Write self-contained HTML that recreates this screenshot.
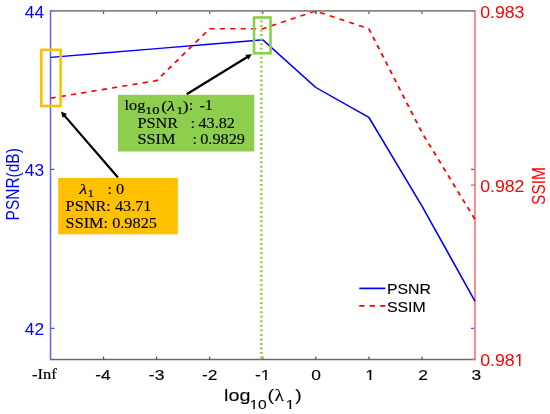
<!DOCTYPE html>
<html><head><meta charset="utf-8"><title>PSNR / SSIM vs log10(lambda1)</title>
<style>
html,body{margin:0;padding:0;background:#fff;}
svg{display:block;}
.sans{font-family:"Liberation Sans",Arial,sans-serif;}
.serif{font-family:"Liberation Serif","Times New Roman",serif;}
</style></head><body>
<svg width="550" height="414" viewBox="0 0 550 414">
<defs><filter id="soft" x="0" y="0" width="550" height="414" filterUnits="userSpaceOnUse" color-interpolation-filters="sRGB"><feGaussianBlur stdDeviation="0.4"/></filter></defs>
<rect width="550" height="414" fill="#fff"/>
<g filter="url(#soft)">
<rect x="-5" y="-5" width="560" height="424" fill="#fff"/>
<!-- axes -->
<g fill="none">
<path d="M50.5 359.5H475" stroke="#686868" stroke-width="1.5"/>
<g stroke="#4a4a4a" stroke-width="1.1">
<path d="M103.6 11v2.9M156.6 11v2.9M209.7 11v2.9M262.8 11v2.9M315.8 11v2.9M368.9 11v2.9M421.9 11v2.9"/>
<path d="M103.6 359.4v-2.9M156.6 359.4v-2.9M209.7 359.4v-2.9M262.8 359.4v-2.9M315.8 359.4v-2.9M368.9 359.4v-2.9M421.9 359.4v-2.9"/>
</g>
<path d="M50.5 10V360.2" stroke="#6262ff" stroke-width="1.5"/>
<path d="M50.5 169.4h4M50.5 328.3h4M50.5 10.9h4M475 169.4h-4M475 328.3h-4" stroke="#5050ff" stroke-width="1.2"/>
<path d="M475 10V360.3" stroke="#ff8080" stroke-width="1.8"/>
<path d="M475 185.2h-4M475 10.9h-4M475 359.4h-4" stroke="#ff5050" stroke-width="1.2"/>
</g>
<!-- data -->
<g transform="scale(1.16,1)" fill="none" stroke-width="1.7" stroke-linejoin="round">
<polyline stroke="#0000ff" stroke-width="1.45" points="43.53,57.4 89.28,53 135.02,48.6 180.77,44.3 226.51,39.8 272.25,87.5 318.00,117.3 363.74,206 409.48,301.2"/>
<polyline stroke="#ff0000" stroke-width="1.6" stroke-dasharray="4.5 4.5" points="43.53,98.2 89.28,89.4 135.02,80.6 180.77,28.7 226.51,28.7 272.25,11 318.00,28.8 363.74,132.5 409.48,219.5"/>
</g>
<!-- top axis line sits above the curves -->
<path d="M50.5 10.9H475" stroke="#868686" stroke-width="1.9" fill="none"/>
<path d="M315.8 11v2.9" stroke="#4a4a4a" stroke-width="1.1" fill="none"/>
<!-- green dotted vertical -->
<path d="M261.4 358.6V12.4" stroke="#8dce4e" stroke-width="2.5" stroke-dasharray="2 2.543" fill="none"/>
<!-- highlight rectangles -->
<rect x="41.3" y="49.9" width="19.3" height="56.1" fill="none" stroke="#ffc000" stroke-width="2.6"/>
<rect x="254" y="17.5" width="16.5" height="35.8" fill="none" stroke="#8dce4e" stroke-width="2.6"/>
<!-- arrows -->
<g stroke="#000" stroke-width="2.2" fill="#000">
<line x1="118" y1="177.5" x2="63.6" y2="114.6"/>
<polygon points="61,111.5 67,114 62.6,117.8" stroke="none"/>
<line x1="186.7" y1="94.3" x2="248.5" y2="56.2"/>
<polygon points="251.8,54.2 248.4,59.7 245.3,54.8" stroke="none"/>
</g>
<!-- annotation boxes -->
<rect x="58.2" y="177.9" width="119.6" height="56.4" fill="#ffc000"/>
<rect x="118" y="94.8" width="136.3" height="56.7" fill="#8dce4e"/>
<g class="serif" font-size="13.8" fill="#000" stroke="#000" stroke-width="0.12">
<text transform="translate(79.3,193.8) scale(1.2,1)" font-style="italic" font-size="15.5">λ</text>
<text transform="translate(87.6,197) scale(1.25,1)" font-size="10.5">1</text>
<text transform="translate(107.5,193.6) scale(1.18,1)">: 0</text>
<text transform="translate(65.6,211.2) scale(1.18,1)">PSNR: 43.71</text>
<text transform="translate(65.6,227.8) scale(1.18,1)">SSIM: 0.9825</text>
<text transform="translate(124.6,110.4) scale(1.18,1)">log</text>
<text transform="translate(145,113.8) scale(1.42,1)" font-size="10.3">10</text>
<text transform="translate(161.3,110.9) scale(1.18,1)" font-size="15.5">(</text>
<text transform="translate(167,110.6) scale(1.2,1)" font-style="italic" font-size="15.5">λ</text>
<text transform="translate(176.4,113.8) scale(1.3,1)" font-size="10.3">1</text>
<text transform="translate(182.4,110.9) scale(1.18,1)" font-size="15.5">)</text><text transform="translate(188.8,110.4) scale(1.18,1)">:</text>
<text transform="translate(199.4,110.4) scale(1.18,1)">-1</text>
<text transform="translate(137.5,127.6) scale(1.18,1)">PSNR</text>
<text transform="translate(190.4,127.6) scale(1.18,1)">:</text>
<text transform="translate(198.4,127.6) scale(1.18,1)">43.82</text>
<text transform="translate(137.5,144.4) scale(1.18,1)">SSIM</text>
<text transform="translate(192.4,144.4) scale(1.18,1)">:</text>
<text transform="translate(200.2,144.4) scale(1.18,1)">0.9829</text>
</g>
<!-- tick labels -->
<g class="sans" font-size="15.8" fill="#0000ff" text-anchor="end">
<text transform="translate(44.2,17.6) scale(1.1,1)">44</text>
<text transform="translate(44.2,176) scale(1.1,1)">43</text>
<text transform="translate(44.2,335.1) scale(1.1,1)">42</text>
</g>
<g class="sans" font-size="15.8" fill="#ff0000">
<text transform="translate(480.2,17.5) scale(1.12,1)">0.983</text>
<text transform="translate(480.2,192) scale(1.12,1)">0.982</text>
<text transform="translate(480.2,366.3) scale(1.12,1)">0.981</text>
</g>
<g class="sans" font-size="15.2" fill="#000" stroke="#000" stroke-width="0.12" text-anchor="middle">
<text transform="translate(103.0,379.8) scale(1.15,1)">-4</text>
<text transform="translate(156.6,379.8) scale(1.15,1)">-3</text>
<text transform="translate(209.7,379.8) scale(1.15,1)">-2</text>
<text transform="translate(262.8,379.8) scale(1.15,1)">-1</text>
<text transform="translate(316.2,379.8) scale(1.15,1)">0</text>
<text transform="translate(370.2,379.8) scale(1.15,1)">1</text>
<text transform="translate(423.2,379.8) scale(1.15,1)">2</text>
<text transform="translate(476.3,379.8) scale(1.15,1)">3</text>
</g>
<text class="serif" font-size="14.6" stroke="#000" stroke-width="0.2" transform="translate(32,379.2) scale(1.13,1)">-Inf</text>
<!-- axis labels -->
<g class="sans" font-size="16.2" fill="#000" stroke="#000" stroke-width="0.1">
<text transform="translate(224,400.6) scale(1.22,1)">log</text>
<text transform="translate(249.4,408.5) scale(1.26,1)" font-size="12.4">10</text>
<text transform="translate(267.4,401) scale(1.2,1)">(</text>
<text class="serif" transform="translate(274.6,401) scale(1.15,1)" font-size="17">λ</text>
<text transform="translate(285.8,408.5) scale(1.26,1)" font-size="12.4">1</text>
<text transform="translate(295.2,401) scale(1.2,1)">)</text>
</g>
<text class="sans" font-size="15.5" fill="#0000ff" text-anchor="middle" transform="translate(19.2,184.3) rotate(-90) scale(1,1.22)">PSNR(dB)</text>
<text class="sans" font-size="15.5" fill="#ff0000" text-anchor="middle" transform="translate(545,186) rotate(-90) scale(1,1.22)">SSIM</text>
<!-- trim the foot serifs of the sans "1" glyphs so they read like the reference face -->
<g fill="#fff">
<rect x="261.5" y="377.7" width="3.55" height="2.8"/><rect x="266.75" y="377.7" width="3.75" height="2.8"/>
<rect x="365.5" y="377.7" width="4" height="2.8"/><rect x="371.4" y="377.7" width="3.8" height="2.8"/>
<rect x="514.5" y="363.7" width="4.45" height="2.8"/><rect x="520.6" y="363.7" width="3.6" height="2.8"/>
<rect x="249.5" y="407.8" width="3.8" height="1.6"/><rect x="254.8" y="407.8" width="2.9" height="1.6"/>
<rect x="285.5" y="407.8" width="4" height="1.6"/><rect x="291.15" y="407.8" width="3" height="1.6"/>
</g>
<!-- legend -->
<line x1="359.3" y1="288.4" x2="385.3" y2="288.4" stroke="#0000ff" stroke-width="1.7"/>
<line x1="359.3" y1="305.8" x2="385.3" y2="305.8" stroke="#ff0000" stroke-width="1.7" stroke-dasharray="5.22 5.22"/>
<g class="sans" font-size="13.8" fill="#000" stroke="#000" stroke-width="0.12">
<text transform="translate(386.9,293.8) scale(1.15,1)">PSNR</text>
<text transform="translate(386.9,311.8) scale(1.15,1)">SSIM</text>
</g>
</g>
</svg>
</body></html>
